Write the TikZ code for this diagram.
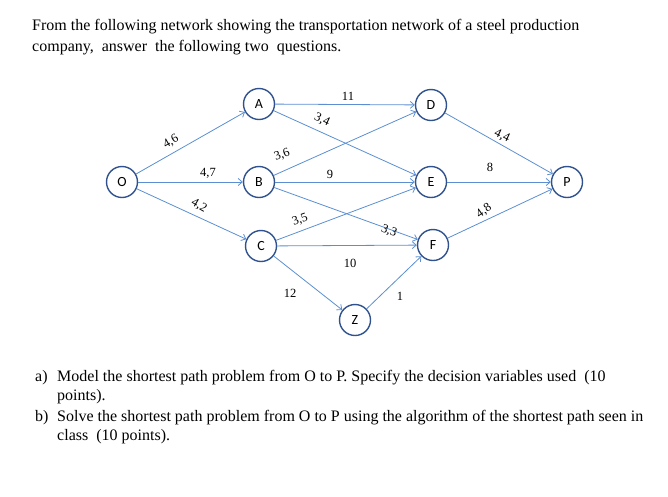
\documentclass[tikz,border=0pt]{standalone}
\usepackage{fontspec}
\setmainfont{Liberation Serif}
\newfontfamily\nodefont{Carlito}
\usetikzlibrary{arrows.meta}
\definecolor{edgec}{HTML}{5B8FD1}
\definecolor{nodec}{HTML}{2F528F}
\begin{document}
\begin{tikzpicture}[x=1pt,y=-1pt,
  vert/.style={circle,draw=nodec,line width=1.4pt,minimum size=31pt,inner sep=0pt,font=\nodefont\fontsize{14}{14}\selectfont},
  arc/.style={draw=edgec,line width=0.8pt,-{Straight Barb[length=4pt,width=7pt]}},
  lab/.style={font=\fontsize{12.5}{12.5}\selectfont,inner sep=0pt},
  txt/.style={anchor=west,inner sep=0pt,font=\fontsize{16}{18}\selectfont}]
\useasboundingbox (0,0) rectangle (668,496);
\node[vert] (O) at (122,182) {O};
\node[vert] (A) at (259,104) {A};
\node[vert] (B) at (259,182) {B};
\node[vert] (C) at (261,246) {C};
\node[vert] (D) at (431,105) {D};
\node[vert] (E) at (431,182) {E};
\node[vert] (F) at (433,245) {F};
\node[vert] (Z) at (355,320) {Z};
\node[vert] (P) at (567,182) {P};
\draw[arc] (O) -- (A);
\draw[arc] (O) -- (B);
\draw[arc] (O) -- (C);
\draw[arc] (A) -- (D);
\draw[arc] (A) -- (E);
\draw[arc] (B) -- (D);
\draw[arc] (B) -- (E);
\draw[arc] (B) -- (F);
\draw[arc] (C) -- (E);
\draw[arc] (C) -- (F);
\draw[arc] (C) -- (Z);
\draw[arc] (Z) -- (F);
\draw[arc] (D) -- (P);
\draw[arc] (E) -- (P);
\draw[arc] (F) -- (P);
\node[lab,rotate=30] (l1) at (171,142) {4,6};
\node[lab] (l2) at (208,173) {4,7};
\node[lab,rotate=-30] (l3) at (199,206) {4,2};
\node[lab] (l4) at (348,96) {11};
\node[lab,rotate=-25] (l5) at (322,120) {3,4};
\node[lab,rotate=20] (l6) at (282,155) {3,6};
\node[lab] (l7) at (330,174) {9};
\node[lab,rotate=20] (l8) at (300,220) {3,5};
\node[lab,rotate=-22] (l9) at (389,231) {3,3};
\node[lab] (l10) at (350,263) {10};
\node[lab] (l11) at (290,293) {12};
\node[lab] (l12) at (400,296) {1};
\node[lab,rotate=-25] (l13) at (502,136) {4,4};
\node[lab] (l14) at (490,167) {8};
\node[lab,rotate=35] (l15) at (484,211) {4,8};
\node[txt] (t1) at (32,27) {From the following network showing the transportation network of a steel production};
\node[txt] (t2) at (32,48) {company,\ \ answer\ \ the following two\ \ questions.};
\node[txt] (qa) at (35,378) {a)};
\node[txt] (qa1) at (57,378) {Model the shortest path problem from O to P. Specify the decision variables used\ \ (10};
\node[txt] (qa2) at (57,397) {points).};
\node[txt] (qb) at (35,418) {b)};
\node[txt] (qb1) at (57,418) {Solve the shortest path problem from O to P using the algorithm of the shortest path seen in};
\node[txt] (qb2) at (57,437) {class\ \ (10 points).};
\end{tikzpicture}
\end{document}
